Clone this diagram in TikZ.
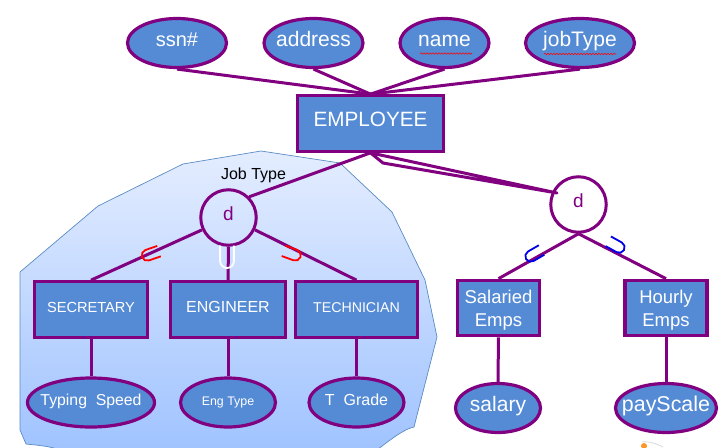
\documentclass[tikz,border=0pt]{standalone}
\usepackage{fontspec}
\setmainfont{Liberation Sans}
\usetikzlibrary{shapes.geometric, decorations.pathmorphing}
\definecolor{er-purple}{RGB}{128, 0, 128}
\definecolor{er-blue}{RGB}{85, 139, 213}
\definecolor{blob-edge}{RGB}{90, 140, 195}
\definecolor{blob-top}{RGB}{228, 237, 255}
\definecolor{blob-bottom}{RGB}{160, 195, 255}
\definecolor{mark-blue}{RGB}{0, 0, 230}
\definecolor{dot-orange}{RGB}{250, 150, 40}
\begin{document}
\begin{tikzpicture}[x=1pt, y=-1pt]
	\tikzset{entity/.style={rectangle, draw=er-purple, line width=3.2pt, fill=er-blue, text=white, align=center, inner sep=0pt, minimum height=55.5pt}}
	\tikzset{oneline/.style={text height=.905em, text depth=.212em}}
	\tikzset{attr/.style={ellipse, draw=er-purple, line width=3.2pt, fill=er-blue, text=white, inner xsep=-25pt, inner ysep=-8pt, minimum height=49pt, oneline}}
	\tikzset{disjoint/.style={circle, draw=er-purple, line width=3pt, text=er-purple, font=\fontsize{19}{22}\selectfont, inner sep=0pt, minimum size=55.5pt, oneline}}
	\tikzset{conn/.style={draw=er-purple, line width=3pt}}
	\tikzset{spell/.style={draw=red, line width=.6pt, decorate, decoration={snake, amplitude=.7pt, segment length=3pt}}}
	\tikzset{subsetmark/.pic={\draw[line width=1.8pt] (18,5.5) -- (5.5,5.5) arc (90:270:5.5) -- (18,-5.5);}}
	\useasboundingbox (0,0) rectangle (728,447);

	% shaded region behind the job type subclasses
	\draw[blob-edge, line width=.7pt, top color=blob-top, bottom color=blob-bottom]
	(20,272) -- (98,206) -- (183,164) -- (261,151) -- (340,163) -- (392,212)
	-- (425,280) -- (437,337) -- (414,427)
	.. controls (405,429) and (395,436) .. (377,450)
	-- (60,450) .. controls (50,446) and (35,445) .. (26,444)
	-- (20,430) -- cycle;

	% attributes of the superclass
	\node[attr, minimum width=99pt, font=\fontsize{20}{24}\selectfont] (ssn) at (177,43) {ssn\#};
	\node[attr, minimum width=99pt, font=\fontsize{21}{24}\selectfont] (address) at (313.5,43) {address};
	\node[attr, minimum width=89pt, font=\fontsize{21}{24}\selectfont] (name) at (444.5,43) {name};
	\node[attr, minimum width=109pt, font=\fontsize{21}{24}\selectfont] (jobtype) at (580,43) {jobType};
	\node[entity, oneline, minimum width=146pt, font=\fontsize{20.7}{24}\selectfont] (employee) at (370.5,123.5) {EMPLOYEE};
	\foreach \attrname in {ssn, address, name, jobtype}
		\draw[conn] (\attrname.south) -- (employee.north);
	\draw[spell] (420,53.5) -- (472,53.5);
	\draw[spell] (544,54) -- (616,54);

	% job type specialization
	\node[disjoint] (dleft) at (228.5,217.5) {d};
	\node[font=\fontsize{16}{18}\selectfont, inner sep=0pt] (jobtypelabel) at (253.5,175) {Job Type};
	\draw[conn] (employee.south) -- (dleft.45);
	\node[entity, oneline, minimum width=113pt, font=\fontsize{14.6}{18}\selectfont] (secretary) at (91,309.5) {SECRETARY};
	\node[entity, oneline, minimum width=115pt, font=\fontsize{16}{18}\selectfont] (engineer) at (228,309.5) {ENGINEER};
	\node[entity, oneline, minimum width=122pt, font=\fontsize{14.2}{18}\selectfont] (technician) at (356.5,309.5) {TECHNICIAN};
	\draw[conn] (dleft.205) -- (secretary.north);
	\draw[conn] (dleft.south) -- (engineer.north);
	\draw[conn] (dleft.335) -- (technician.north);
	\node[attr, minimum width=127pt, font=\fontsize{15.8}{18}\selectfont] (typing) at (91,402.5) {Typing\ \ Speed};
	\node[attr, minimum width=95pt, font=\fontsize{12.4}{15}\selectfont] (engtype) at (228,402.5) {Eng Type};
	\node[attr, minimum width=95pt, font=\fontsize{16}{18}\selectfont] (tgrade) at (356.5,402.5) {T\ \ Grade};
	\draw[conn] (secretary) -- (typing);
	\draw[conn] (engineer) -- (engtype);
	\draw[conn] (technician) -- (tgrade);
	\pic[red, rotate=19] at (142,257) {subsetmark};
	\pic[white, rotate=90, scale=1.25] at (227,268) {subsetmark};
	\pic[red, rotate=160] at (300.5,257) {subsetmark};

	% pay specialization
	\node[disjoint] (dright) at (578.5,204.5) {d};
	\coordinate (dbl end) at (557,193);
	\coordinate (dbl knee) at (383,163);
	\draw[conn, line join=round] (employee.south) -- (dbl knee) -- (dbl end) -- cycle;
	\node[entity, minimum width=82pt, font=\fontsize{18.5}{23}\selectfont] (salaried) at (498.5,308) {\rule{0pt}{17.5pt}Salaried\\Emps};
	\node[entity, minimum width=82pt, font=\fontsize{18.5}{23}\selectfont] (hourly) at (666,308) {\rule{0pt}{17.5pt}Hourly\\Emps};
	\draw[conn] (dright.south) -- (salaried.north);
	\draw[conn] (dright.south) -- (hourly.north);
	\node[attr, minimum width=85pt, font=\fontsize{21}{24}\selectfont] (salary) at (498,408) {salary};
	\node[attr, minimum width=101pt, font=\fontsize{21.4}{24}\selectfont] (payscale) at (666,408) {payScale};
	\draw[conn] (salaried) -- (salary);
	\draw[conn] (hourly) -- (payscale);
	\pic[mark-blue, rotate=30] at (526,259) {subsetmark};
	\pic[mark-blue, rotate=151] at (624,250) {subsetmark};

	% stray mark at the bottom edge
	\draw[gray!30, line width=.8pt] (642,442) .. controls (650,441) and (657,444) .. (663,447);
	\fill[dot-orange] (644,446) circle (3);
\end{tikzpicture}
\end{document}
